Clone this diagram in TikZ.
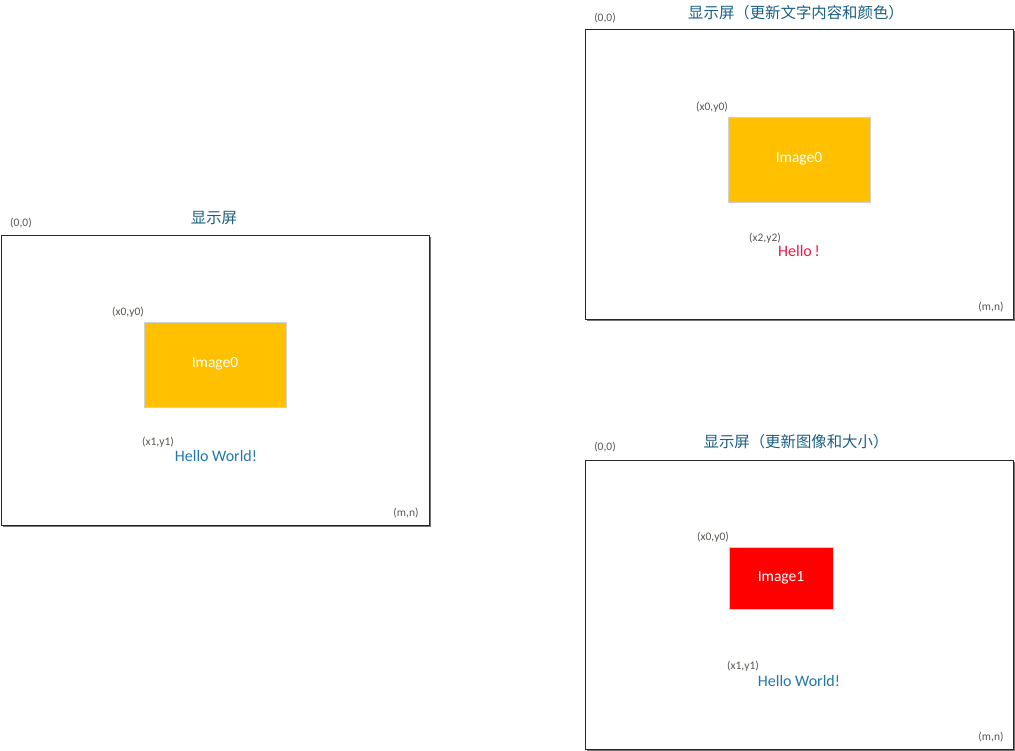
\documentclass[tikz,border=0pt]{standalone}
\usepackage{fontspec}
\setmainfont{Carlito}
\newfontfamily\cjk{Noto Sans CJK SC}
\definecolor{titlec}{HTML}{1B5E82}
\definecolor{coordc}{HTML}{5A5550}
\definecolor{helloc}{HTML}{2177B0}
\definecolor{redc}{HTML}{FF1040}
\definecolor{imgy}{HTML}{FFC000}
\definecolor{imgr}{HTML}{FF0000}
\begin{document}
\begin{tikzpicture}[x=1pt,y=-1pt,
  frame/.style={draw=black!85,line width=1pt,fill=white},
  shadowc/.style={fill=black!55,draw=none},
  title/.style={text=titlec,font=\cjk\fontsize{15.4}{18}\selectfont,inner sep=0pt},
  coord/.style={text=coordc,font=\fontsize{11.5}{13}\selectfont,inner sep=0pt},
  imgbox/.style={draw=black!18,line width=0.8pt},
  imgtext/.style={text=white,font=\fontsize{15.5}{18}\selectfont,inner sep=0pt},
  hello/.style={text=helloc,font=\fontsize{16}{18}\selectfont,inner sep=0pt}]
\useasboundingbox (0,0) rectangle (1015,751);
% left panel
\fill[shadowc] (2.5,237.5) rectangle (430.5,526.5);
\draw[frame] (1,236) rectangle (429,525);
\node[title] (t1) at (214,218) {显示屏};
\node[coord] (o1) at (21,223) {(0,0)};
\node[coord] (p1) at (128,312) {(x0,y0)};
\draw[imgbox,fill=imgy] (144,322) rectangle (286,407);
\node[imgtext] (i1) at (215,364) {Image0};
\node[coord] (q1) at (158,442) {(x1,y1)};
\node[hello] (h1) at (216,456) {Hello World!};
\node[coord] (m1) at (406,513) {(m,n)};
% top right panel
\fill[shadowc] (586.5,31.5) rectangle (1015,321.5);
\draw[frame] (585,30) rectangle (1013.5,320);
\node[title] (t2) at (796,13) {显示屏（更新文字内容和颜色）};
\node[coord] (o2) at (605,18) {(0,0)};
\node[coord] (p2) at (712,107) {(x0,y0)};
\draw[imgbox,fill=imgy] (728,117) rectangle (870,202);
\node[imgtext] (i2) at (799,159) {Image0};
\node[coord] (q2) at (765,238) {(x2,y2)};
\node[text=redc,font=\fontsize{16}{18}\selectfont,inner sep=0pt] (h2) at (799,251) {Hello\,!};
\node[coord] (m2) at (991,307) {(m,n)};
% bottom right panel
\fill[shadowc] (586.5,461.5) rectangle (1015,750.5);
\draw[frame] (585,460) rectangle (1013.5,749);
\node[title] (t3) at (796,442) {显示屏（更新图像和大小）};
\node[coord] (o3) at (605,447) {(0,0)};
\node[coord] (p3) at (713,537) {(x0,y0)};
\draw[imgbox,fill=imgr] (729,547) rectangle (833,609);
\node[imgtext] (i3) at (781,578) {Image1};
\node[coord] (q3) at (743,666) {(x1,y1)};
\node[hello] (h3) at (799,681) {Hello World!};
\node[coord] (m3) at (991,737) {(m,n)};
\end{tikzpicture}
\end{document}
